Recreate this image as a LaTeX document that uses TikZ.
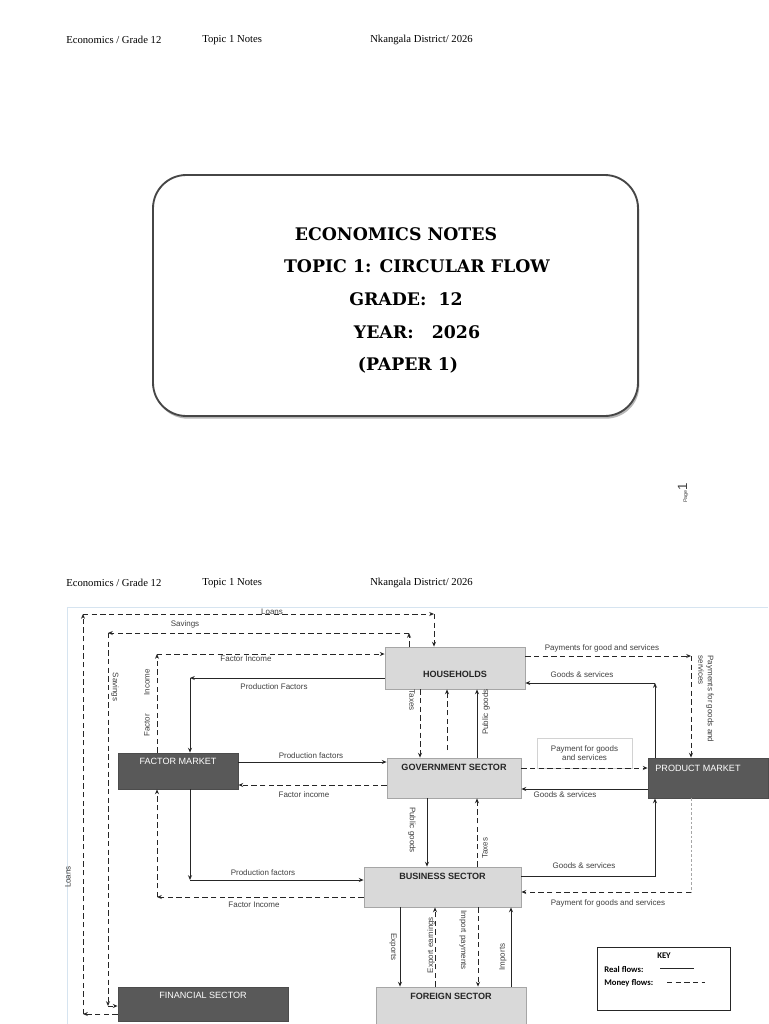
\documentclass[tikz,border=0pt]{standalone}
\usepackage{fontspec}
\setmainfont{Liberation Sans}
\newfontfamily\hdrfont{Liberation Serif}
\newfontfamily\ttlfont{DejaVu Serif}
\newfontfamily\keyfont{Carlito}
\usetikzlibrary{shadows,arrows.meta}
\begin{document}
\begin{tikzpicture}[x=0.75pt, y=-0.75pt, >={Stealth[length=3.6pt,width=3pt]}, font=\fontsize{6}{7}\selectfont,
	real/.style={draw=lncol, line width=0.7pt},
	money/.style={draw=lncol, line width=0.7pt, dash pattern=on 4pt off 2.5pt},
	lbl/.style={text=txtcol, inner sep=1pt},
	lightbox/.style={draw=gray!70, fill=boxlight, line width=0.6pt, inner sep=0pt},
	darkbox/.style={draw=gray!60!black, fill=boxdark, line width=0.6pt, inner sep=0pt},
	boldtxt/.style={anchor=center, font=\bfseries\fontsize{6.8}{8}\selectfont, text=lncol},
	whitetxt/.style={anchor=center, font=\fontsize{6.8}{8}\selectfont, text=white},
	hdr/.style={font=\hdrfont\fontsize{8}{9}\selectfont, anchor=west, inner sep=0pt},
	ttl/.style={font=\ttlfont\bfseries\fontsize{13}{15}\selectfont, inner sep=0pt},
	keytxt/.style={font=\keyfont\bfseries\fontsize{6.5}{8}\selectfont, inner sep=0pt}]
	\definecolor{lncol}{RGB}{38, 38, 38}
	\definecolor{txtcol}{RGB}{64, 64, 64}
	\definecolor{boxlight}{RGB}{217, 217, 217}
	\definecolor{boxdark}{RGB}{89, 89, 89}
	\definecolor{framecol}{RGB}{214, 228, 240}
	
	\useasboundingbox[fill=white] (0,0) rectangle (768,1024);
	
	% 页眉
	\node[hdr] (hAa) at (66,40) {Economics / Grade 12};
	\node[hdr] (hAb) at (202,40) {Topic 1 Notes};
	\node[hdr] (hAc) at (370,40) {Nkangala District/ 2026};
	
	% 标题框
	\node[draw=gray!55!black, line width=1.4pt, fill=white, rounded corners=25pt,
		minimum width=363.75pt, minimum height=180.75pt,
		drop shadow={shadow xshift=1pt, shadow yshift=-2pt, fill=gray!80, opacity=0.7}]
		(ttlbox) at (395.5,295.5) {};
	\node[ttl] (ttlA) at (396,234) {ECONOMICS NOTES};
	\node[ttl] (ttlB) at (417,266) {TOPIC 1: CIRCULAR FLOW};
	\node[ttl] (ttlC) at (406,299) {GRADE:\ \ 12};
	\node[ttl] (ttlD) at (417,332) {YEAR:\ \ \ 2026};
	\node[ttl] (ttlE) at (408,365) {(PAPER 1)};
	
	% 页码
	\node[rotate=90, inner sep=0pt, text=txtcol] (pgno) at (683,493)
		{{\fontsize{4}{5}\selectfont Page}{\fontsize{10}{12}\selectfont 1}};
	
	% 第二页页眉
	\node[hdr] (hBa) at (66,583) {Economics / Grade 12};
	\node[hdr] (hBb) at (202,583) {Topic 1 Notes};
	\node[hdr] (hBc) at (370,583) {Nkangala District/ 2026};
	
	% 图框
	\draw[framecol, line width=0.6pt] (768,607) -- (67,607) -- (67,1024);
	
	% 各部门
	\node[lightbox, minimum width=105pt, minimum height=31.5pt,
		label={[boldtxt, yshift=-21pt]north:HOUSEHOLDS}] (hh) at (455,668) {};
	\node[lightbox, minimum width=100.5pt, minimum height=30pt,
		label={[boldtxt, yshift=-7.5pt]north:GOVERNMENT SECTOR}] (gov) at (454,778) {};
	\node[lightbox, minimum width=117.75pt, minimum height=30pt,
		label={[boldtxt, yshift=-7.5pt]north:BUSINESS SECTOR}] (bus) at (442.5,887) {};
	\node[lightbox, minimum width=112.5pt, minimum height=32.25pt,
		label={[boldtxt, yshift=-7.5pt]north:FOREIGN SECTOR}] (frn) at (451,1008.5) {};
	\node[darkbox, minimum width=90pt, minimum height=27pt,
		label={[whitetxt, yshift=-6.75pt]north:FACTOR MARKET}] (fm) at (178,771) {};
	\node[darkbox, minimum width=90pt, minimum height=30pt,
		label={[whitetxt, yshift=-8.25pt, xshift=-7.5pt]north:PRODUCT MARKET}] (pm) at (708,778) {};
	\node[darkbox, minimum width=127.5pt, minimum height=25.5pt,
		label={[whitetxt, yshift=-6.75pt]north:FINANCIAL SECTOR}] (fin) at (203,1004) {};
	\node[draw=gray!35, fill=white, minimum width=71.25pt, minimum height=22.5pt, inner sep=0pt,
		text=txtcol, align=center] (paybox) at (584.5,753) {Payment for goods\\and services};
	
	% 左侧回路
	\coordinate (loanA) at (83,1014);
	\coordinate (loanB) at (83,614);
	\coordinate (loanC) at (434,614);
	\draw[money,->] (fin.west |- loanA) -- (loanA);
	\draw[money,->] (loanA) -- (loanB);
	\draw[money,->] (loanB) -- (loanC);
	\draw[money,->] (loanC) -- (loanC |- hh.north);
	
	\coordinate (savA) at (409,633);
	\coordinate (savB) at (108,633);
	\coordinate (savC) at (108,1006);
	\draw[money,->] (savA |- hh.north) -- (savA);
	\draw[money,->] (savA) -- (savB);
	\draw[money,->] (savB) -- (savC);
	\draw[money,->] (savC) -- (fin.west |- savC);
	
	\coordinate (fiA) at (157,654);
	\draw[money,->] (fiA |- fm.north) -- (fiA);
	\draw[money,->] (fiA) -- (hh.west |- fiA);
	
	\coordinate (pfA) at (190,678);
	\draw[real,->] (hh.west |- pfA) -- (pfA);
	\draw[real,->] (pfA) -- (pfA |- fm.north);
	
	\coordinate (pfB) at (238,762);
	\coordinate (fiB) at (238,785);
	\draw[real,->] (fm.east |- pfB) -- (gov.west |- pfB);
	\draw[money,->] (gov.west |- fiB) -- (fm.east |- fiB);
	
	\coordinate (pfC) at (190,880);
	\coordinate (fiC) at (157,897);
	\draw[real,->] (pfC |- fm.south) -- (pfC);
	\draw[real,->] (pfC) -- (bus.west |- pfC);
	\draw[money,->] (bus.west |- fiC) -- (fiC);
	\draw[money,->] (fiC) -- (fiC |- fm.south);
	
	% 政府部门
	\coordinate (txA) at (420,700);
	\coordinate (upA) at (447,750);
	\coordinate (pgA) at (477,700);
	\coordinate (pgB) at (427,830);
	\coordinate (txB) at (477,830);
	\draw[money,->] (txA |- hh.south) -- (txA |- gov.north);
	\draw[money,->] (upA) -- (upA |- hh.south);
	\draw[real,->] (pgA |- gov.north) -- (pgA |- hh.south);
	\draw[real,->] (pgB |- gov.south) -- (pgB |- bus.north);
	\draw[money,->] (txB |- bus.north) -- (txB |- gov.south);
	
	% 产品市场
	\coordinate (pyA) at (691,656);
	\coordinate (gsA) at (655,683);
	\coordinate (pyB) at (600,768);
	\coordinate (gsB) at (600,789);
	\coordinate (gsC) at (655,876);
	\coordinate (pyC) at (691,892);
	\draw[money,->] (hh.east |- pyA) -- (pyA);
	\draw[money,->] (pyA) -- (pyA |- pm.north);
	\draw[real,->] (gsA |- pm.north) -- (gsA);
	\draw[real,->] (gsA) -- (hh.east |- gsA);
	\draw[money,->] (gov.east |- pyB) -- (pm.west |- pyB);
	\draw[real,->] (pm.west |- gsB) -- (gov.east |- gsB);
	\draw[real,->] (bus.east |- gsC) -- (gsC) -- (gsC |- pm.south);
	\draw[gray!70, line width=0.4pt, dash pattern=on 2pt off 1.5pt] (pyC |- pm.south) -- (pyC);
	\draw[money,->] (pyC) -- (bus.east |- pyC);
	
	% 对外部门
	\coordinate (exA) at (400,947);
	\coordinate (eeA) at (435,947);
	\coordinate (ipA) at (478,947);
	\coordinate (imA) at (511,947);
	\draw[real,->] (exA |- bus.south) -- (exA |- frn.north);
	\draw[money,->] (eeA |- frn.north) -- (eeA |- bus.south);
	\draw[money,->] (ipA |- bus.south) -- (ipA |- frn.north);
	\draw[real,->] (imA |- frn.north) -- (imA |- bus.south);
	
	% 标签
	\node[lbl] (lLoans) at (272,612) {Loans};
	\node[lbl] (lSav) at (185,624) {Savings};
	\node[lbl] (lFiA) at (246,659) {Factor Income};
	\node[lbl] (lPfA) at (274,687) {Production Factors};
	\node[lbl, rotate=-90] (lSavV) at (115,687) {Savings};
	\node[lbl, rotate=90] (lFiV) at (147,703) {Factor\hspace{14pt}Income};
	\node[lbl, rotate=-90] (lTxA) at (412,700) {Taxes};
	\node[lbl, rotate=90] (lPgA) at (486,712) {Public goods};
	\node[lbl] (lPyA) at (602,648) {Payments for good and services};
	\node[lbl] (lGsA) at (582,675) {Goods \& services};
	\node[lbl, rotate=-90, align=left] (lPyV) at (706,699) {Payments for goods and\\services};
	\node[lbl] (lPfB) at (311,756) {Production factors};
	\node[lbl] (lFiB) at (304,795) {Factor income};
	\node[lbl] (lGsB) at (565,795) {Goods \& services};
	\node[lbl, rotate=-90] (lPgB) at (412,830) {Public goods};
	\node[lbl, rotate=90] (lTxB) at (485,848) {Taxes};
	\node[lbl] (lPfC) at (263,873) {Production factors};
	\node[lbl] (lFiC) at (254,905) {Factor Income};
	\node[lbl] (lGsC) at (584,866) {Goods \& services};
	\node[lbl] (lPyC) at (608,903) {Payment for goods and services};
	\node[lbl, rotate=90] (lLoansV) at (68,877) {Loans};
	\node[lbl, rotate=-90] (lEx) at (393,947) {Exports};
	\node[lbl, rotate=90] (lEe) at (431,945) {Export earnings};
	\node[lbl, rotate=-90] (lIp) at (463,940) {Import payments};
	\node[lbl, rotate=90] (lIm) at (503,957) {Imports};
	
	% 图例
	\node[draw=lncol, line width=0.6pt, minimum width=99.75pt, minimum height=47.25pt, inner sep=0pt]
		(key) at (663.5,978.5) {};
	\node[keytxt] (keyT) at (664,956) {KEY};
	\node[keytxt, anchor=west] (keyR) at (604,969) {Real flows:};
	\node[keytxt, anchor=west] (keyM) at (604,983) {Money flows:};
	\coordinate (krA) at (660,968);
	\coordinate (krB) at (694,968);
	\coordinate (kmA) at (667,982);
	\coordinate (kmB) at (705,982);
	\draw[lncol, line width=0.6pt] (krA) -- (krB);
	\draw[lncol, line width=0.6pt, dash pattern=on 4pt off 2.5pt] (kmA) -- (kmB);
\end{tikzpicture}
\end{document}
